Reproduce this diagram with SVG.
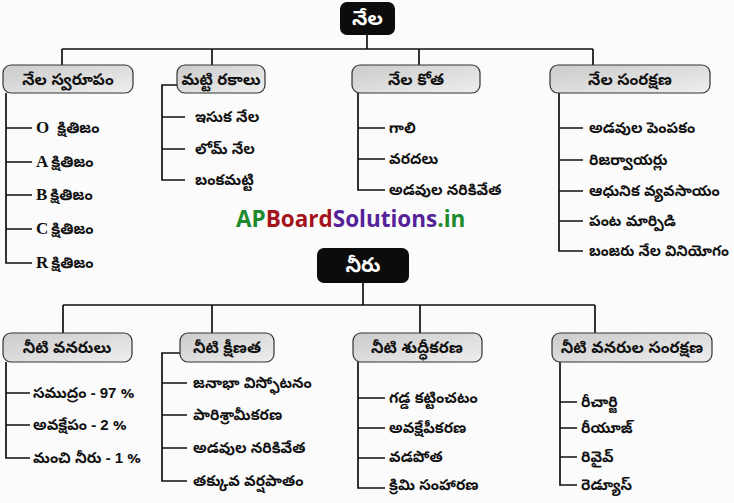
<svg xmlns="http://www.w3.org/2000/svg" width="734" height="503" viewBox="0 0 734 503">
<defs>
<linearGradient id="g" x1="0" y1="0" x2="1" y2="1">
<stop offset="0" stop-color="#cbcbcb"/>
<stop offset="1" stop-color="#eeeeee"/>
</linearGradient>
<style>
.t{font-family:"Noto Sans Telugu","Noto Sans",sans-serif;fill:#111}
.hd{font-family:"Noto Sans Telugu","Noto Sans",sans-serif;fill:#fff;font-size:20px;font-weight:bold}
.bx{fill:url(#g);stroke:#333;stroke-width:1.2}
.bl{font-size:16px;font-weight:bold}
.it{font-size:15px;font-weight:bold}
.lt{font-family:"Liberation Serif",serif;font-weight:bold;font-size:17px;fill:#111}
.c{fill:none;stroke:#111;stroke-width:1.7}
.hb{fill:#0c0c0c}
.wm{font-family:"Open Sans","Noto Sans",sans-serif;font-weight:bold;font-size:22.5px}
</style>
</defs>
<rect width="734" height="503" fill="#fbfbfb"/>
<g id="connectors" class="c">
<path d="M62 49H593M62 49V65M212 49V65M419 49V65M593 49V65"/>
<path d="M367 35V49"/>
<path d="M6 93V263H32M6 128H32M6 162H32M6 195H32M6 229H32"/>
<path d="M177 85H162V180H185M162 117H185M162 149H185"/>
<path d="M358 93V190H385M358 128H385M358 159H385"/>
<path d="M559 93V251H583M559 128H583M559 160H583M559 191H583M559 221H583"/>
<path d="M63 305H595M63 305V333M212 305V333M420 305V333M595 305V333"/>
<path d="M363 283V305"/>
<path d="M6 362V458H30M6 393H30M6 425H30"/>
<path d="M180 353H162V481H187M162 383H187M162 415H187M162 448H187"/>
<path d="M358 362V488H385M358 398H385M358 428H385M358 458H385"/>
<path d="M560 362V485H577M560 402H577M560 428H577M560 457H577"/>
</g>
<g id="n-nela">
<rect class="hb" x="340" y="2" width="55" height="33" rx="7"/>
<text class="hd" x="367.5" y="25" text-anchor="middle">నేల</text>
</g>
<g id="n-swaroopam"><rect class="bx" x="3" y="65" width="130" height="28" rx="8"/><text class="t bl" x="68" y="85" text-anchor="middle">నేల స్వరూపం</text></g>
<g id="n-matti"><rect class="bx" x="177" y="65" width="88" height="28" rx="8"/><text class="t bl" x="221" y="85" text-anchor="middle">మట్టి రకాలు</text></g>
<g id="n-kotha"><rect class="bx" x="352" y="65" width="128" height="28" rx="8"/><text class="t bl" x="416" y="85" text-anchor="middle">నేల కోత</text></g>
<g id="n-samrak"><rect class="bx" x="550" y="65" width="160" height="28" rx="8"/><text class="t bl" x="630" y="85" text-anchor="middle">నేల సంరక్షణ</text></g>
<g id="n-horizons">
<text x="36" y="133"><tspan class="lt">O</tspan><tspan class="t it" dx="8">క్షితిజం</tspan></text>
<text x="36" y="167"><tspan class="lt">A</tspan><tspan class="t it" dx="3">క్షితిజం</tspan></text>
<text x="36" y="200"><tspan class="lt">B</tspan><tspan class="t it" dx="3">క్షితిజం</tspan></text>
<text x="36" y="234"><tspan class="lt">C</tspan><tspan class="t it" dx="3">క్షితిజం</tspan></text>
<text x="36" y="268"><tspan class="lt">R</tspan><tspan class="t it" dx="3">క్షితిజం</tspan></text>
</g>
<g id="n-soiltypes" class="t it">
<text x="195" y="122">ఇసుక నేల</text>
<text x="195" y="154">లోమ్ నేల</text>
<text x="195" y="185">బంకమట్టి</text>
</g>
<g id="n-erosion" class="t it">
<text x="389" y="133">గాలి</text>
<text x="389" y="164">వరదలు</text>
<text x="389" y="195">అడవుల నరికివేత</text>
</g>
<g id="n-conserve" class="t it">
<text x="589" y="133">అడవుల పెంపకం</text>
<text x="589" y="165">రిజర్వాయర్లు</text>
<text x="589" y="196">ఆధునిక వ్యవసాయం</text>
<text x="589" y="226">పంట మార్పిడి</text>
<text x="589" y="256" textLength="140" lengthAdjust="spacingAndGlyphs">బంజరు నేల వినియోగం</text>
</g>
<g id="watermark">
<text class="wm" x="236" y="227"><tspan fill="#1d8a2e">AP</tspan><tspan fill="#a3141c">Board</tspan><tspan fill="#55229a">Solutions</tspan><tspan fill="#1d8a2e">.in</tspan></text>
</g>
<g id="n-neeru">
<rect class="hb" x="317" y="248" width="92" height="35" rx="7"/>
<text class="hd" x="363" y="272" text-anchor="middle">నీరు</text>
</g>
<g id="n-vanarulu"><rect class="bx" x="3" y="333" width="129" height="29" rx="8"/><text class="t bl" x="67" y="353" text-anchor="middle">నీటి వనరులు</text></g>
<g id="n-ksheenatha"><rect class="bx" x="180" y="333" width="94" height="29" rx="8"/><text class="t bl" x="227" y="353" text-anchor="middle">నీటి క్షీణత</text></g>
<g id="n-shuddhi"><rect class="bx" x="353" y="333" width="129" height="29" rx="8"/><text class="t bl" x="417" y="353" text-anchor="middle">నీటి శుద్ధీకరణ</text></g>
<g id="n-wsamrak"><rect class="bx" x="552" y="333" width="160" height="29" rx="8"/><text class="t bl" x="632" y="353" text-anchor="middle">నీటి వనరుల సంరక్షణ</text></g>
<g id="n-resources" class="t it">
<text x="33" y="398">సముద్రం - <tspan font-family="Liberation Sans">97</tspan> %</text>
<text x="33" y="430">అవక్షేపం - <tspan font-family="Liberation Sans">2</tspan> %</text>
<text x="33" y="463">మంచి నీరు - <tspan font-family="Liberation Sans">1</tspan> %</text>
</g>
<g id="n-depletion" class="t it">
<text x="193" y="388">జనాభా విస్ఫోటనం</text>
<text x="193" y="420">పారిశ్రామీకరణ</text>
<text x="193" y="453">అడవుల నరికివేత</text>
<text x="193" y="486">తక్కువ వర్షపాతం</text>
</g>
<g id="n-purify" class="t it">
<text x="389" y="403">గడ్డ కట్టించటం</text>
<text x="389" y="433">అవక్షేపీకరణ</text>
<text x="389" y="462">వడపోత</text>
<text x="389" y="490">క్రిమి సంహారణ</text>
</g>
<g id="n-4r" class="t it">
<text x="581" y="407">రీచార్జి</text>
<text x="581" y="433">రీయూజ్</text>
<text x="581" y="462">రివైవ్</text>
<text x="581" y="490">రెడ్యూస్</text>
</g>
</svg>
